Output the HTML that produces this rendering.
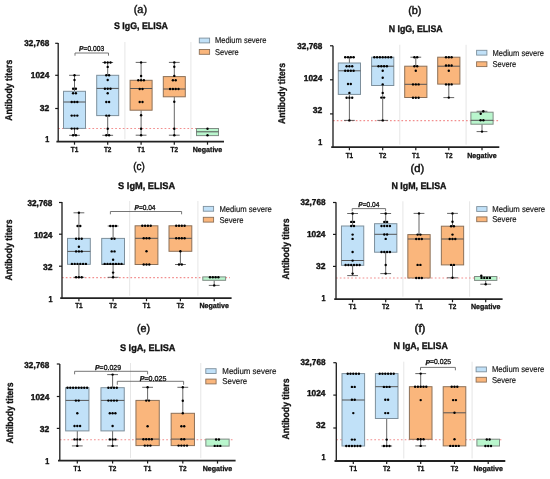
<!DOCTYPE html>
<html><head><meta charset="utf-8"><style>
html,body{margin:0;padding:0;background:#fff;width:550px;height:479px;overflow:hidden}
svg{display:block;font-family:"Liberation Sans", sans-serif;filter:blur(0.3px);text-rendering:geometricPrecision}
</style></head><body>
<svg width="550" height="479" viewBox="0 0 550 479">
<rect width="550" height="479" fill="#fff"/>
<text x="140.4" y="10" font-size="11.2" font-weight="normal" font-style="normal" text-anchor="middle" dominant-baseline="central" fill="#111" textLength="13.3" lengthAdjust="spacingAndGlyphs" stroke="#111" stroke-width="0.45">(a)</text>
<text x="141" y="26.9" font-size="9.5" font-weight="bold" font-style="normal" text-anchor="middle" dominant-baseline="central" fill="#111" textLength="54" lengthAdjust="spacingAndGlyphs" stroke="#111" stroke-width="0.35">S IgG, ELISA</text>
<text x="0" y="0" transform="translate(9.9,90.3) rotate(-90)" font-size="9.8" font-weight="bold" text-anchor="middle" dominant-baseline="central" fill="#111" stroke="#111" stroke-width="0.3" textLength="61" lengthAdjust="spacingAndGlyphs">Antibody titers</text>
<line x1="124.89999999999999" y1="42" x2="124.89999999999999" y2="139.2" stroke="#e3e3e3" stroke-width="0.9"/>
<line x1="190.9" y1="42" x2="190.9" y2="139.2" stroke="#e3e3e3" stroke-width="0.9"/>
<line x1="58.2" y1="128.5" x2="218" y2="128.5" stroke="#f07c7c" stroke-width="1.1" stroke-dasharray="1.7,2.1" opacity="0.85"/>
<line x1="74.5" y1="75.3" x2="74.5" y2="91.3" stroke="#555" stroke-width="0.9"/>
<line x1="69.1" y1="75.3" x2="79.9" y2="75.3" stroke="#555" stroke-width="0.9"/>
<line x1="74.5" y1="128.4" x2="74.5" y2="135.3" stroke="#555" stroke-width="0.9"/>
<line x1="69.1" y1="135.3" x2="79.9" y2="135.3" stroke="#555" stroke-width="0.9"/>
<rect x="63.50" y="91.3" width="22" height="37.10" fill="#c1e1f8" stroke="#7d8f9c" stroke-width="1"/>
<line x1="63.5" y1="102" x2="85.5" y2="102" stroke="#555" stroke-width="1"/>
<circle cx="74.50" cy="75.3" r="1.2" fill="#000"/>
<circle cx="74.50" cy="80" r="1.2" fill="#000"/>
<circle cx="73.10" cy="88.7" r="1.2" fill="#000"/>
<circle cx="75.90" cy="88.7" r="1.2" fill="#000"/>
<circle cx="73.10" cy="93.3" r="1.2" fill="#000"/>
<circle cx="75.90" cy="93.3" r="1.2" fill="#000"/>
<circle cx="71.70" cy="102" r="1.2" fill="#000"/>
<circle cx="74.50" cy="102" r="1.2" fill="#000"/>
<circle cx="77.30" cy="102" r="1.2" fill="#000"/>
<circle cx="71.70" cy="115.6" r="1.2" fill="#000"/>
<circle cx="74.50" cy="115.6" r="1.2" fill="#000"/>
<circle cx="77.30" cy="115.6" r="1.2" fill="#000"/>
<circle cx="71.70" cy="128.6" r="1.2" fill="#000"/>
<circle cx="74.50" cy="128.6" r="1.2" fill="#000"/>
<circle cx="77.30" cy="128.6" r="1.2" fill="#000"/>
<circle cx="73.10" cy="135.3" r="1.2" fill="#000"/>
<circle cx="75.90" cy="135.3" r="1.2" fill="#000"/>
<line x1="107.7" y1="62.5" x2="107.7" y2="75.3" stroke="#555" stroke-width="0.9"/>
<line x1="102.3" y1="62.5" x2="113.10000000000001" y2="62.5" stroke="#555" stroke-width="0.9"/>
<line x1="107.7" y1="115.6" x2="107.7" y2="135.3" stroke="#555" stroke-width="0.9"/>
<line x1="102.3" y1="135.3" x2="113.10000000000001" y2="135.3" stroke="#555" stroke-width="0.9"/>
<rect x="96.70" y="75.3" width="22" height="40.30" fill="#c1e1f8" stroke="#7d8f9c" stroke-width="1"/>
<line x1="96.7" y1="88.4" x2="118.7" y2="88.4" stroke="#555" stroke-width="1"/>
<circle cx="104.90" cy="62.5" r="1.2" fill="#000"/>
<circle cx="107.70" cy="62.5" r="1.2" fill="#000"/>
<circle cx="110.50" cy="62.5" r="1.2" fill="#000"/>
<circle cx="107.70" cy="66.9" r="1.2" fill="#000"/>
<circle cx="106.30" cy="75.3" r="1.2" fill="#000"/>
<circle cx="109.10" cy="75.3" r="1.2" fill="#000"/>
<circle cx="107.70" cy="80" r="1.2" fill="#000"/>
<circle cx="104.90" cy="88.7" r="1.2" fill="#000"/>
<circle cx="107.70" cy="88.7" r="1.2" fill="#000"/>
<circle cx="110.50" cy="88.7" r="1.2" fill="#000"/>
<circle cx="107.70" cy="93.3" r="1.2" fill="#000"/>
<circle cx="106.30" cy="102" r="1.2" fill="#000"/>
<circle cx="109.10" cy="102" r="1.2" fill="#000"/>
<circle cx="106.30" cy="115.6" r="1.2" fill="#000"/>
<circle cx="109.10" cy="115.6" r="1.2" fill="#000"/>
<circle cx="107.70" cy="128.7" r="1.2" fill="#000"/>
<circle cx="106.30" cy="135.3" r="1.2" fill="#000"/>
<circle cx="109.10" cy="135.3" r="1.2" fill="#000"/>
<line x1="141.1" y1="62.4" x2="141.1" y2="80.3" stroke="#555" stroke-width="0.9"/>
<line x1="135.7" y1="62.4" x2="146.5" y2="62.4" stroke="#555" stroke-width="0.9"/>
<line x1="141.1" y1="110.2" x2="141.1" y2="135.2" stroke="#555" stroke-width="0.9"/>
<line x1="135.7" y1="135.2" x2="146.5" y2="135.2" stroke="#555" stroke-width="0.9"/>
<rect x="130.10" y="80.3" width="22" height="29.90" fill="#fab67c" stroke="#8c7058" stroke-width="1"/>
<line x1="130.1" y1="88.5" x2="152.1" y2="88.5" stroke="#555" stroke-width="1"/>
<circle cx="141.10" cy="62.4" r="1.2" fill="#000"/>
<circle cx="141.10" cy="75.9" r="1.2" fill="#000"/>
<circle cx="138.30" cy="80.3" r="1.2" fill="#000"/>
<circle cx="141.10" cy="80.3" r="1.2" fill="#000"/>
<circle cx="143.90" cy="80.3" r="1.2" fill="#000"/>
<circle cx="139.70" cy="89" r="1.2" fill="#000"/>
<circle cx="142.50" cy="89" r="1.2" fill="#000"/>
<circle cx="139.70" cy="102" r="1.2" fill="#000"/>
<circle cx="142.50" cy="102" r="1.2" fill="#000"/>
<circle cx="141.10" cy="115.3" r="1.2" fill="#000"/>
<circle cx="141.10" cy="128.8" r="1.2" fill="#000"/>
<circle cx="141.10" cy="135.2" r="1.2" fill="#000"/>
<line x1="174.3" y1="62.4" x2="174.3" y2="76.6" stroke="#555" stroke-width="0.9"/>
<line x1="168.9" y1="62.4" x2="179.70000000000002" y2="62.4" stroke="#555" stroke-width="0.9"/>
<line x1="174.3" y1="96.8" x2="174.3" y2="135.2" stroke="#555" stroke-width="0.9"/>
<line x1="168.9" y1="135.2" x2="179.70000000000002" y2="135.2" stroke="#555" stroke-width="0.9"/>
<rect x="163.30" y="76.6" width="22" height="20.20" fill="#fab67c" stroke="#8c7058" stroke-width="1"/>
<line x1="163.3" y1="89" x2="185.3" y2="89" stroke="#555" stroke-width="1"/>
<circle cx="174.30" cy="62.4" r="1.2" fill="#000"/>
<circle cx="174.30" cy="66.7" r="1.2" fill="#000"/>
<circle cx="174.30" cy="75.9" r="1.2" fill="#000"/>
<circle cx="172.90" cy="80.3" r="1.2" fill="#000"/>
<circle cx="175.70" cy="80.3" r="1.2" fill="#000"/>
<circle cx="170.10" cy="89" r="1.2" fill="#000"/>
<circle cx="172.90" cy="89" r="1.2" fill="#000"/>
<circle cx="175.70" cy="89" r="1.2" fill="#000"/>
<circle cx="178.50" cy="89" r="1.2" fill="#000"/>
<circle cx="174.30" cy="101.8" r="1.2" fill="#000"/>
<circle cx="174.30" cy="128.8" r="1.2" fill="#000"/>
<circle cx="174.30" cy="135.2" r="1.2" fill="#000"/>
<rect x="196.50" y="128.5" width="22" height="7.10" fill="#b9f6cd" stroke="#7f8c84" stroke-width="1"/>
<line x1="196.5" y1="131.8" x2="218.5" y2="131.8" stroke="#555" stroke-width="1"/>
<circle cx="207.50" cy="128.8" r="1.2" fill="#000"/>
<circle cx="207.50" cy="135.2" r="1.2" fill="#000"/>
<line x1="58.2" y1="43" x2="58.2" y2="141.7" stroke="#222" stroke-width="1.35"/>
<line x1="56.400000000000006" y1="141.7" x2="224" y2="141.7" stroke="#222" stroke-width="1.8"/>
<line x1="55.2" y1="43.3" x2="58.2" y2="43.3" stroke="#1a1a1a" stroke-width="1.2"/>
<line x1="55.2" y1="75.3" x2="58.2" y2="75.3" stroke="#1a1a1a" stroke-width="1.2"/>
<line x1="55.2" y1="108.5" x2="58.2" y2="108.5" stroke="#1a1a1a" stroke-width="1.2"/>
<line x1="74.5" y1="141.7" x2="74.5" y2="144.7" stroke="#1a1a1a" stroke-width="1.2"/>
<line x1="107.7" y1="141.7" x2="107.7" y2="144.7" stroke="#1a1a1a" stroke-width="1.2"/>
<line x1="141.1" y1="141.7" x2="141.1" y2="144.7" stroke="#1a1a1a" stroke-width="1.2"/>
<line x1="174.3" y1="141.7" x2="174.3" y2="144.7" stroke="#1a1a1a" stroke-width="1.2"/>
<line x1="207.5" y1="141.7" x2="207.5" y2="144.7" stroke="#1a1a1a" stroke-width="1.2"/>
<text x="49.3" y="43" font-size="8.6" font-weight="bold" font-style="normal" text-anchor="end" dominant-baseline="central" fill="#111" textLength="25" lengthAdjust="spacingAndGlyphs" stroke="#111" stroke-width="0.4">32,768</text>
<text x="49.3" y="75" font-size="8.6" font-weight="bold" font-style="normal" text-anchor="end" dominant-baseline="central" fill="#111" textLength="18.5" lengthAdjust="spacingAndGlyphs" stroke="#111" stroke-width="0.4">1024</text>
<text x="49.3" y="107.6" font-size="8.6" font-weight="bold" font-style="normal" text-anchor="end" dominant-baseline="central" fill="#111" textLength="9.5" lengthAdjust="spacingAndGlyphs" stroke="#111" stroke-width="0.4">32</text>
<text x="49.3" y="139" font-size="8.6" font-weight="bold" font-style="normal" text-anchor="end" dominant-baseline="central" fill="#111" textLength="4" lengthAdjust="spacingAndGlyphs" stroke="#111" stroke-width="0.4">1</text>
<text x="74.5" y="149.5" font-size="7.3" font-weight="bold" font-style="normal" text-anchor="middle" dominant-baseline="central" fill="#111" textLength="7.5" lengthAdjust="spacingAndGlyphs" stroke="#111" stroke-width="0.3">T1</text>
<text x="107.7" y="149.5" font-size="7.3" font-weight="bold" font-style="normal" text-anchor="middle" dominant-baseline="central" fill="#111" textLength="7.5" lengthAdjust="spacingAndGlyphs" stroke="#111" stroke-width="0.3">T2</text>
<text x="141.1" y="149.5" font-size="7.3" font-weight="bold" font-style="normal" text-anchor="middle" dominant-baseline="central" fill="#111" textLength="7.5" lengthAdjust="spacingAndGlyphs" stroke="#111" stroke-width="0.3">T1</text>
<text x="174.3" y="149.5" font-size="7.3" font-weight="bold" font-style="normal" text-anchor="middle" dominant-baseline="central" fill="#111" textLength="7.5" lengthAdjust="spacingAndGlyphs" stroke="#111" stroke-width="0.3">T2</text>
<text x="207.5" y="149.5" font-size="7.3" font-weight="bold" font-style="normal" text-anchor="middle" dominant-baseline="central" fill="#111" textLength="29.5" lengthAdjust="spacingAndGlyphs" stroke="#111" stroke-width="0.3">Negative</text>
<rect x="199.3" y="38.099999999999994" width="10.3" height="4.8" fill="#c1e1f8" stroke="#7d8f9c" stroke-width="0.9"/>
<rect x="199.3" y="49.5" width="10.3" height="4.8" fill="#fab67c" stroke="#8c7058" stroke-width="0.9"/>
<text x="215" y="40.4" font-size="8.5" font-weight="normal" font-style="normal" text-anchor="start" dominant-baseline="central" fill="#1a1a1a" textLength="51.5" lengthAdjust="spacingAndGlyphs" stroke="#1a1a1a" stroke-width="0.2">Medium severe</text>
<text x="215" y="51.800000000000004" font-size="8.5" font-weight="normal" font-style="normal" text-anchor="start" dominant-baseline="central" fill="#1a1a1a" textLength="23.69" lengthAdjust="spacingAndGlyphs" stroke="#1a1a1a" stroke-width="0.2">Severe</text>
<polyline points="75,55.7 75,53 108.5,53 108.5,55.7" fill="none" stroke="#666" stroke-width="0.9"/>
<text x="91.6" y="48.3" font-size="7.2" text-anchor="middle" dominant-baseline="central" fill="#111" stroke="#111" stroke-width="0.3" textLength="25" lengthAdjust="spacingAndGlyphs"><tspan font-style="italic" font-weight="bold">P</tspan>=0.003</text>
<text x="414.8" y="11" font-size="11.2" font-weight="normal" font-style="normal" text-anchor="middle" dominant-baseline="central" fill="#111" textLength="13.3" lengthAdjust="spacingAndGlyphs" stroke="#111" stroke-width="0.45">(b)</text>
<text x="415.7" y="29.9" font-size="9.5" font-weight="bold" font-style="normal" text-anchor="middle" dominant-baseline="central" fill="#111" textLength="54" lengthAdjust="spacingAndGlyphs" stroke="#111" stroke-width="0.35">N IgG, ELISA</text>
<text x="0" y="0" transform="translate(282.40000000000003,93.5) rotate(-90)" font-size="9.8" font-weight="bold" text-anchor="middle" dominant-baseline="central" fill="#111" stroke="#111" stroke-width="0.3" textLength="61" lengthAdjust="spacingAndGlyphs">Antibody titers</text>
<line x1="399.8" y1="44.8" x2="399.8" y2="144.7" stroke="#e3e3e3" stroke-width="0.9"/>
<line x1="466.1" y1="44.8" x2="466.1" y2="144.7" stroke="#e3e3e3" stroke-width="0.9"/>
<line x1="333" y1="120.6" x2="500" y2="120.6" stroke="#f07c7c" stroke-width="1.1" stroke-dasharray="1.7,2.1" opacity="0.85"/>
<line x1="349.4" y1="57.2" x2="349.4" y2="63" stroke="#555" stroke-width="0.9"/>
<line x1="344.0" y1="57.2" x2="354.79999999999995" y2="57.2" stroke="#555" stroke-width="0.9"/>
<line x1="349.4" y1="94.4" x2="349.4" y2="120.4" stroke="#555" stroke-width="0.9"/>
<line x1="344.0" y1="120.4" x2="354.79999999999995" y2="120.4" stroke="#555" stroke-width="0.9"/>
<rect x="338.30" y="63" width="22.2" height="31.40" fill="#c1e1f8" stroke="#7d8f9c" stroke-width="1"/>
<line x1="338.29999999999995" y1="70.8" x2="360.5" y2="70.8" stroke="#555" stroke-width="1"/>
<circle cx="345.20" cy="57.2" r="1.2" fill="#000"/>
<circle cx="348.00" cy="57.2" r="1.2" fill="#000"/>
<circle cx="350.80" cy="57.2" r="1.2" fill="#000"/>
<circle cx="353.60" cy="57.2" r="1.2" fill="#000"/>
<circle cx="346.60" cy="66.2" r="1.2" fill="#000"/>
<circle cx="349.40" cy="66.2" r="1.2" fill="#000"/>
<circle cx="352.20" cy="66.2" r="1.2" fill="#000"/>
<circle cx="345.20" cy="70.8" r="1.2" fill="#000"/>
<circle cx="348.00" cy="70.8" r="1.2" fill="#000"/>
<circle cx="350.80" cy="70.8" r="1.2" fill="#000"/>
<circle cx="353.60" cy="70.8" r="1.2" fill="#000"/>
<circle cx="348.00" cy="84" r="1.2" fill="#000"/>
<circle cx="350.80" cy="84" r="1.2" fill="#000"/>
<circle cx="349.40" cy="92.9" r="1.2" fill="#000"/>
<circle cx="346.60" cy="97.8" r="1.2" fill="#000"/>
<circle cx="349.40" cy="97.8" r="1.2" fill="#000"/>
<circle cx="352.20" cy="97.8" r="1.2" fill="#000"/>
<circle cx="349.40" cy="120.4" r="1.2" fill="#000"/>
<line x1="382.7" y1="85.5" x2="382.7" y2="120.4" stroke="#555" stroke-width="0.9"/>
<line x1="377.3" y1="120.4" x2="388.09999999999997" y2="120.4" stroke="#555" stroke-width="0.9"/>
<rect x="371.60" y="57.2" width="22.2" height="28.30" fill="#c1e1f8" stroke="#7d8f9c" stroke-width="1"/>
<line x1="371.59999999999997" y1="66.2" x2="393.8" y2="66.2" stroke="#555" stroke-width="1"/>
<circle cx="374.30" cy="57.2" r="1.2" fill="#000"/>
<circle cx="377.10" cy="57.2" r="1.2" fill="#000"/>
<circle cx="379.90" cy="57.2" r="1.2" fill="#000"/>
<circle cx="382.70" cy="57.2" r="1.2" fill="#000"/>
<circle cx="385.50" cy="57.2" r="1.2" fill="#000"/>
<circle cx="388.30" cy="57.2" r="1.2" fill="#000"/>
<circle cx="391.10" cy="57.2" r="1.2" fill="#000"/>
<circle cx="378.50" cy="66.2" r="1.2" fill="#000"/>
<circle cx="381.30" cy="66.2" r="1.2" fill="#000"/>
<circle cx="384.10" cy="66.2" r="1.2" fill="#000"/>
<circle cx="386.90" cy="66.2" r="1.2" fill="#000"/>
<circle cx="382.70" cy="70.8" r="1.2" fill="#000"/>
<circle cx="382.70" cy="77.8" r="1.2" fill="#000"/>
<circle cx="382.70" cy="84.4" r="1.2" fill="#000"/>
<circle cx="382.70" cy="92.9" r="1.2" fill="#000"/>
<circle cx="381.30" cy="97.6" r="1.2" fill="#000"/>
<circle cx="384.10" cy="97.6" r="1.2" fill="#000"/>
<circle cx="382.70" cy="120.4" r="1.2" fill="#000"/>
<line x1="415.8" y1="57.2" x2="415.8" y2="66.2" stroke="#555" stroke-width="0.9"/>
<line x1="410.40000000000003" y1="57.2" x2="421.2" y2="57.2" stroke="#555" stroke-width="0.9"/>
<rect x="404.70" y="66.2" width="22.2" height="31.30" fill="#fab67c" stroke="#8c7058" stroke-width="1"/>
<line x1="404.7" y1="84.3" x2="426.90000000000003" y2="84.3" stroke="#555" stroke-width="1"/>
<circle cx="414.40" cy="57.2" r="1.2" fill="#000"/>
<circle cx="417.20" cy="57.2" r="1.2" fill="#000"/>
<circle cx="414.40" cy="66.2" r="1.2" fill="#000"/>
<circle cx="417.20" cy="66.2" r="1.2" fill="#000"/>
<circle cx="415.80" cy="70.8" r="1.2" fill="#000"/>
<circle cx="413.00" cy="84.4" r="1.2" fill="#000"/>
<circle cx="415.80" cy="84.4" r="1.2" fill="#000"/>
<circle cx="418.60" cy="84.4" r="1.2" fill="#000"/>
<circle cx="413.00" cy="97.7" r="1.2" fill="#000"/>
<circle cx="415.80" cy="97.7" r="1.2" fill="#000"/>
<circle cx="418.60" cy="97.7" r="1.2" fill="#000"/>
<line x1="448.8" y1="84.1" x2="448.8" y2="97.6" stroke="#555" stroke-width="0.9"/>
<line x1="443.40000000000003" y1="97.6" x2="454.2" y2="97.6" stroke="#555" stroke-width="0.9"/>
<rect x="437.70" y="57.2" width="22.2" height="26.90" fill="#fab67c" stroke="#8c7058" stroke-width="1"/>
<line x1="437.7" y1="66.2" x2="459.90000000000003" y2="66.2" stroke="#555" stroke-width="1"/>
<circle cx="446.00" cy="57.2" r="1.2" fill="#000"/>
<circle cx="448.80" cy="57.2" r="1.2" fill="#000"/>
<circle cx="451.60" cy="57.2" r="1.2" fill="#000"/>
<circle cx="446.00" cy="65.5" r="1.2" fill="#000"/>
<circle cx="448.80" cy="65.5" r="1.2" fill="#000"/>
<circle cx="451.60" cy="65.5" r="1.2" fill="#000"/>
<circle cx="448.80" cy="70.8" r="1.2" fill="#000"/>
<circle cx="446.00" cy="84.4" r="1.2" fill="#000"/>
<circle cx="448.80" cy="84.4" r="1.2" fill="#000"/>
<circle cx="451.60" cy="84.4" r="1.2" fill="#000"/>
<circle cx="448.80" cy="97.6" r="1.2" fill="#000"/>
<line x1="482" y1="111.3" x2="482" y2="112.2" stroke="#555" stroke-width="0.9"/>
<line x1="476.6" y1="111.3" x2="487.4" y2="111.3" stroke="#555" stroke-width="0.9"/>
<line x1="482" y1="124.2" x2="482" y2="131.6" stroke="#555" stroke-width="0.9"/>
<line x1="476.6" y1="131.6" x2="487.4" y2="131.6" stroke="#555" stroke-width="0.9"/>
<rect x="470.90" y="112.2" width="22.2" height="12.00" fill="#b9f6cd" stroke="#7f8c84" stroke-width="1"/>
<line x1="470.9" y1="120.3" x2="493.1" y2="120.3" stroke="#555" stroke-width="1"/>
<circle cx="483.30" cy="111.3" r="1.2" fill="#000"/>
<circle cx="480.70" cy="113.7" r="1.2" fill="#000"/>
<circle cx="480.60" cy="120.3" r="1.2" fill="#000"/>
<circle cx="483.40" cy="120.3" r="1.2" fill="#000"/>
<circle cx="482.00" cy="131.6" r="1.2" fill="#000"/>
<line x1="333" y1="45.8" x2="333" y2="147.2" stroke="#222" stroke-width="1.35"/>
<line x1="331.2" y1="147.2" x2="499.3" y2="147.2" stroke="#222" stroke-width="1.8"/>
<line x1="330" y1="45.8" x2="333" y2="45.8" stroke="#1a1a1a" stroke-width="1.2"/>
<line x1="330" y1="79.8" x2="333" y2="79.8" stroke="#1a1a1a" stroke-width="1.2"/>
<line x1="330" y1="113.9" x2="333" y2="113.9" stroke="#1a1a1a" stroke-width="1.2"/>
<line x1="349.4" y1="147.2" x2="349.4" y2="150.2" stroke="#1a1a1a" stroke-width="1.2"/>
<line x1="382.7" y1="147.2" x2="382.7" y2="150.2" stroke="#1a1a1a" stroke-width="1.2"/>
<line x1="415.8" y1="147.2" x2="415.8" y2="150.2" stroke="#1a1a1a" stroke-width="1.2"/>
<line x1="448.8" y1="147.2" x2="448.8" y2="150.2" stroke="#1a1a1a" stroke-width="1.2"/>
<line x1="482" y1="147.2" x2="482" y2="150.2" stroke="#1a1a1a" stroke-width="1.2"/>
<text x="322.3" y="45.8" font-size="8.6" font-weight="bold" font-style="normal" text-anchor="end" dominant-baseline="central" fill="#111" textLength="25" lengthAdjust="spacingAndGlyphs" stroke="#111" stroke-width="0.4">32,768</text>
<text x="322.3" y="78.4" font-size="8.6" font-weight="bold" font-style="normal" text-anchor="end" dominant-baseline="central" fill="#111" textLength="18.5" lengthAdjust="spacingAndGlyphs" stroke="#111" stroke-width="0.4">1024</text>
<text x="322.3" y="110" font-size="8.6" font-weight="bold" font-style="normal" text-anchor="end" dominant-baseline="central" fill="#111" textLength="9.5" lengthAdjust="spacingAndGlyphs" stroke="#111" stroke-width="0.4">32</text>
<text x="322.3" y="141.8" font-size="8.6" font-weight="bold" font-style="normal" text-anchor="end" dominant-baseline="central" fill="#111" textLength="4" lengthAdjust="spacingAndGlyphs" stroke="#111" stroke-width="0.4">1</text>
<text x="349.4" y="155.3" font-size="7.3" font-weight="bold" font-style="normal" text-anchor="middle" dominant-baseline="central" fill="#111" textLength="7.5" lengthAdjust="spacingAndGlyphs" stroke="#111" stroke-width="0.3">T1</text>
<text x="382.7" y="155.3" font-size="7.3" font-weight="bold" font-style="normal" text-anchor="middle" dominant-baseline="central" fill="#111" textLength="7.5" lengthAdjust="spacingAndGlyphs" stroke="#111" stroke-width="0.3">T2</text>
<text x="415.8" y="155.3" font-size="7.3" font-weight="bold" font-style="normal" text-anchor="middle" dominant-baseline="central" fill="#111" textLength="7.5" lengthAdjust="spacingAndGlyphs" stroke="#111" stroke-width="0.3">T1</text>
<text x="448.8" y="155.3" font-size="7.3" font-weight="bold" font-style="normal" text-anchor="middle" dominant-baseline="central" fill="#111" textLength="7.5" lengthAdjust="spacingAndGlyphs" stroke="#111" stroke-width="0.3">T2</text>
<text x="482" y="155.3" font-size="7.3" font-weight="bold" font-style="normal" text-anchor="middle" dominant-baseline="central" fill="#111" textLength="29.5" lengthAdjust="spacingAndGlyphs" stroke="#111" stroke-width="0.3">Negative</text>
<rect x="476.6" y="50.3" width="10.3" height="4.8" fill="#c1e1f8" stroke="#7d8f9c" stroke-width="0.9"/>
<rect x="476.6" y="61.8" width="10.3" height="4.8" fill="#fab67c" stroke="#8c7058" stroke-width="0.9"/>
<text x="492.5" y="52.6" font-size="8.5" font-weight="normal" font-style="normal" text-anchor="start" dominant-baseline="central" fill="#1a1a1a" textLength="51.5" lengthAdjust="spacingAndGlyphs" stroke="#1a1a1a" stroke-width="0.2">Medium severe</text>
<text x="492.5" y="64.1" font-size="8.5" font-weight="normal" font-style="normal" text-anchor="start" dominant-baseline="central" fill="#1a1a1a" textLength="23.69" lengthAdjust="spacingAndGlyphs" stroke="#1a1a1a" stroke-width="0.2">Severe</text>
<text x="139.1" y="167.2" font-size="11.2" font-weight="normal" font-style="normal" text-anchor="middle" dominant-baseline="central" fill="#111" textLength="11.6" lengthAdjust="spacingAndGlyphs" stroke="#111" stroke-width="0.45">(c)</text>
<text x="146.6" y="186.9" font-size="9.5" font-weight="bold" font-style="normal" text-anchor="middle" dominant-baseline="central" fill="#111" textLength="57" lengthAdjust="spacingAndGlyphs" stroke="#111" stroke-width="0.35">S IgM, ELISA</text>
<text x="0" y="0" transform="translate(9.6,250) rotate(-90)" font-size="9.8" font-weight="bold" text-anchor="middle" dominant-baseline="central" fill="#111" stroke="#111" stroke-width="0.3" textLength="61" lengthAdjust="spacingAndGlyphs">Antibody titers</text>
<line x1="129.70000000000002" y1="201" x2="129.70000000000002" y2="295.7" stroke="#e3e3e3" stroke-width="0.9"/>
<line x1="197.9" y1="201" x2="197.9" y2="295.7" stroke="#e3e3e3" stroke-width="0.9"/>
<line x1="62" y1="277.6" x2="230" y2="277.6" stroke="#f07c7c" stroke-width="1.1" stroke-dasharray="1.7,2.1" opacity="0.85"/>
<line x1="78.9" y1="212.8" x2="78.9" y2="238.4" stroke="#555" stroke-width="0.9"/>
<line x1="73.5" y1="212.8" x2="84.30000000000001" y2="212.8" stroke="#555" stroke-width="0.9"/>
<line x1="78.9" y1="264.3" x2="78.9" y2="277.3" stroke="#555" stroke-width="0.9"/>
<line x1="73.5" y1="277.3" x2="84.30000000000001" y2="277.3" stroke="#555" stroke-width="0.9"/>
<rect x="67.50" y="238.4" width="22.8" height="25.90" fill="#c1e1f8" stroke="#7d8f9c" stroke-width="1"/>
<line x1="67.5" y1="251.4" x2="90.30000000000001" y2="251.4" stroke="#555" stroke-width="1"/>
<circle cx="78.90" cy="212.8" r="1.2" fill="#000"/>
<circle cx="77.50" cy="226" r="1.2" fill="#000"/>
<circle cx="80.30" cy="226" r="1.2" fill="#000"/>
<circle cx="76.10" cy="238.7" r="1.2" fill="#000"/>
<circle cx="78.90" cy="238.7" r="1.2" fill="#000"/>
<circle cx="81.70" cy="238.7" r="1.2" fill="#000"/>
<circle cx="78.90" cy="246.7" r="1.2" fill="#000"/>
<circle cx="76.10" cy="251.4" r="1.2" fill="#000"/>
<circle cx="78.90" cy="251.4" r="1.2" fill="#000"/>
<circle cx="81.70" cy="251.4" r="1.2" fill="#000"/>
<circle cx="71.90" cy="263.9" r="1.2" fill="#000"/>
<circle cx="74.70" cy="263.9" r="1.2" fill="#000"/>
<circle cx="77.50" cy="263.9" r="1.2" fill="#000"/>
<circle cx="80.30" cy="263.9" r="1.2" fill="#000"/>
<circle cx="83.10" cy="263.9" r="1.2" fill="#000"/>
<circle cx="85.90" cy="263.9" r="1.2" fill="#000"/>
<circle cx="76.10" cy="277.3" r="1.2" fill="#000"/>
<circle cx="78.90" cy="277.3" r="1.2" fill="#000"/>
<circle cx="81.70" cy="277.3" r="1.2" fill="#000"/>
<line x1="113.1" y1="226" x2="113.1" y2="238.4" stroke="#555" stroke-width="0.9"/>
<line x1="107.69999999999999" y1="226" x2="118.5" y2="226" stroke="#555" stroke-width="0.9"/>
<line x1="113.1" y1="264.3" x2="113.1" y2="277.3" stroke="#555" stroke-width="0.9"/>
<line x1="107.69999999999999" y1="277.3" x2="118.5" y2="277.3" stroke="#555" stroke-width="0.9"/>
<rect x="101.70" y="238.4" width="22.8" height="25.90" fill="#c1e1f8" stroke="#7d8f9c" stroke-width="1"/>
<line x1="101.69999999999999" y1="264.3" x2="124.5" y2="264.3" stroke="#555" stroke-width="1"/>
<circle cx="110.30" cy="226" r="1.2" fill="#000"/>
<circle cx="113.10" cy="226" r="1.2" fill="#000"/>
<circle cx="115.90" cy="226" r="1.2" fill="#000"/>
<circle cx="111.70" cy="238.7" r="1.2" fill="#000"/>
<circle cx="114.50" cy="238.7" r="1.2" fill="#000"/>
<circle cx="111.70" cy="251.4" r="1.2" fill="#000"/>
<circle cx="114.50" cy="251.4" r="1.2" fill="#000"/>
<circle cx="113.10" cy="259.8" r="1.2" fill="#000"/>
<circle cx="104.70" cy="263.9" r="1.2" fill="#000"/>
<circle cx="107.50" cy="263.9" r="1.2" fill="#000"/>
<circle cx="110.30" cy="263.9" r="1.2" fill="#000"/>
<circle cx="113.10" cy="263.9" r="1.2" fill="#000"/>
<circle cx="115.90" cy="263.9" r="1.2" fill="#000"/>
<circle cx="118.70" cy="263.9" r="1.2" fill="#000"/>
<circle cx="121.50" cy="263.9" r="1.2" fill="#000"/>
<circle cx="113.10" cy="272.6" r="1.2" fill="#000"/>
<circle cx="113.10" cy="277.3" r="1.2" fill="#000"/>
<rect x="135.10" y="225.8" width="22.8" height="38.70" fill="#fab67c" stroke="#8c7058" stroke-width="1"/>
<line x1="135.1" y1="238.3" x2="157.9" y2="238.3" stroke="#555" stroke-width="1"/>
<circle cx="142.30" cy="225.8" r="1.2" fill="#000"/>
<circle cx="145.10" cy="225.8" r="1.2" fill="#000"/>
<circle cx="147.90" cy="225.8" r="1.2" fill="#000"/>
<circle cx="150.70" cy="225.8" r="1.2" fill="#000"/>
<circle cx="143.70" cy="238.3" r="1.2" fill="#000"/>
<circle cx="146.50" cy="238.3" r="1.2" fill="#000"/>
<circle cx="149.30" cy="238.3" r="1.2" fill="#000"/>
<circle cx="146.50" cy="251.2" r="1.2" fill="#000"/>
<circle cx="143.70" cy="264.5" r="1.2" fill="#000"/>
<circle cx="146.50" cy="264.5" r="1.2" fill="#000"/>
<circle cx="149.30" cy="264.5" r="1.2" fill="#000"/>
<line x1="180.4" y1="251.3" x2="180.4" y2="264.5" stroke="#555" stroke-width="0.9"/>
<line x1="175.0" y1="264.5" x2="185.8" y2="264.5" stroke="#555" stroke-width="0.9"/>
<rect x="169.00" y="225.8" width="22.8" height="25.50" fill="#fab67c" stroke="#8c7058" stroke-width="1"/>
<line x1="169.0" y1="238.3" x2="191.8" y2="238.3" stroke="#555" stroke-width="1"/>
<circle cx="176.20" cy="225.8" r="1.2" fill="#000"/>
<circle cx="179.00" cy="225.8" r="1.2" fill="#000"/>
<circle cx="181.80" cy="225.8" r="1.2" fill="#000"/>
<circle cx="184.60" cy="225.8" r="1.2" fill="#000"/>
<circle cx="176.20" cy="238.3" r="1.2" fill="#000"/>
<circle cx="179.00" cy="238.3" r="1.2" fill="#000"/>
<circle cx="181.80" cy="238.3" r="1.2" fill="#000"/>
<circle cx="184.60" cy="238.3" r="1.2" fill="#000"/>
<circle cx="180.40" cy="251.3" r="1.2" fill="#000"/>
<circle cx="179.00" cy="264.5" r="1.2" fill="#000"/>
<circle cx="181.80" cy="264.5" r="1.2" fill="#000"/>
<line x1="214.2" y1="280.3" x2="214.2" y2="285.4" stroke="#555" stroke-width="0.9"/>
<line x1="208.79999999999998" y1="285.4" x2="219.6" y2="285.4" stroke="#555" stroke-width="0.9"/>
<rect x="202.80" y="276.9" width="22.8" height="3.40" fill="#b9f6cd" stroke="#7f8c84" stroke-width="1"/>
<circle cx="210.00" cy="277.2" r="1.2" fill="#000"/>
<circle cx="212.80" cy="277.2" r="1.2" fill="#000"/>
<circle cx="215.60" cy="277.2" r="1.2" fill="#000"/>
<circle cx="218.40" cy="277.2" r="1.2" fill="#000"/>
<circle cx="214.20" cy="285.4" r="1.2" fill="#000"/>
<line x1="62" y1="202" x2="62" y2="298.2" stroke="#222" stroke-width="1.35"/>
<line x1="60.2" y1="298.2" x2="231.6" y2="298.2" stroke="#222" stroke-width="1.8"/>
<line x1="59" y1="202.5" x2="62" y2="202.5" stroke="#1a1a1a" stroke-width="1.2"/>
<line x1="59" y1="234.2" x2="62" y2="234.2" stroke="#1a1a1a" stroke-width="1.2"/>
<line x1="59" y1="266.2" x2="62" y2="266.2" stroke="#1a1a1a" stroke-width="1.2"/>
<line x1="78.9" y1="298.2" x2="78.9" y2="301.2" stroke="#1a1a1a" stroke-width="1.2"/>
<line x1="113.1" y1="298.2" x2="113.1" y2="301.2" stroke="#1a1a1a" stroke-width="1.2"/>
<line x1="146.5" y1="298.2" x2="146.5" y2="301.2" stroke="#1a1a1a" stroke-width="1.2"/>
<line x1="180.4" y1="298.2" x2="180.4" y2="301.2" stroke="#1a1a1a" stroke-width="1.2"/>
<line x1="214.2" y1="298.2" x2="214.2" y2="301.2" stroke="#1a1a1a" stroke-width="1.2"/>
<text x="52.4" y="203.3" font-size="8.6" font-weight="bold" font-style="normal" text-anchor="end" dominant-baseline="central" fill="#111" textLength="25" lengthAdjust="spacingAndGlyphs" stroke="#111" stroke-width="0.4">32,768</text>
<text x="52.4" y="235" font-size="8.6" font-weight="bold" font-style="normal" text-anchor="end" dominant-baseline="central" fill="#111" textLength="18.5" lengthAdjust="spacingAndGlyphs" stroke="#111" stroke-width="0.4">1024</text>
<text x="52.4" y="267.3" font-size="8.6" font-weight="bold" font-style="normal" text-anchor="end" dominant-baseline="central" fill="#111" textLength="9.5" lengthAdjust="spacingAndGlyphs" stroke="#111" stroke-width="0.4">32</text>
<text x="52.4" y="299" font-size="8.6" font-weight="bold" font-style="normal" text-anchor="end" dominant-baseline="central" fill="#111" textLength="4" lengthAdjust="spacingAndGlyphs" stroke="#111" stroke-width="0.4">1</text>
<text x="78.9" y="305.7" font-size="7.3" font-weight="bold" font-style="normal" text-anchor="middle" dominant-baseline="central" fill="#111" textLength="7.5" lengthAdjust="spacingAndGlyphs" stroke="#111" stroke-width="0.3">T1</text>
<text x="113.1" y="305.7" font-size="7.3" font-weight="bold" font-style="normal" text-anchor="middle" dominant-baseline="central" fill="#111" textLength="7.5" lengthAdjust="spacingAndGlyphs" stroke="#111" stroke-width="0.3">T2</text>
<text x="146.5" y="305.7" font-size="7.3" font-weight="bold" font-style="normal" text-anchor="middle" dominant-baseline="central" fill="#111" textLength="7.5" lengthAdjust="spacingAndGlyphs" stroke="#111" stroke-width="0.3">T1</text>
<text x="180.4" y="305.7" font-size="7.3" font-weight="bold" font-style="normal" text-anchor="middle" dominant-baseline="central" fill="#111" textLength="7.5" lengthAdjust="spacingAndGlyphs" stroke="#111" stroke-width="0.3">T2</text>
<text x="214.2" y="305.7" font-size="7.3" font-weight="bold" font-style="normal" text-anchor="middle" dominant-baseline="central" fill="#111" textLength="29.5" lengthAdjust="spacingAndGlyphs" stroke="#111" stroke-width="0.3">Negative</text>
<rect x="203.3" y="206.4" width="10.3" height="4.8" fill="#c1e1f8" stroke="#7d8f9c" stroke-width="0.9"/>
<rect x="203.3" y="217.3" width="10.3" height="4.8" fill="#fab67c" stroke="#8c7058" stroke-width="0.9"/>
<text x="219.4" y="208.7" font-size="8.5" font-weight="normal" font-style="normal" text-anchor="start" dominant-baseline="central" fill="#1a1a1a" textLength="52.4" lengthAdjust="spacingAndGlyphs" stroke="#1a1a1a" stroke-width="0.2">Medium severe</text>
<text x="219.4" y="219.6" font-size="8.5" font-weight="normal" font-style="normal" text-anchor="start" dominant-baseline="central" fill="#1a1a1a" textLength="24.104" lengthAdjust="spacingAndGlyphs" stroke="#1a1a1a" stroke-width="0.2">Severe</text>
<polyline points="110.4,214.3 110.4,211.5 181.6,211.5 181.6,214.3" fill="none" stroke="#666" stroke-width="0.9"/>
<text x="145" y="207.3" font-size="7.2" text-anchor="middle" dominant-baseline="central" fill="#111" stroke="#111" stroke-width="0.3" textLength="21" lengthAdjust="spacingAndGlyphs"><tspan font-style="italic" font-weight="bold">P</tspan>=0.04</text>
<text x="417.3" y="168.8" font-size="11.2" font-weight="normal" font-style="normal" text-anchor="middle" dominant-baseline="central" fill="#111" textLength="13.8" lengthAdjust="spacingAndGlyphs" stroke="#111" stroke-width="0.45">(d)</text>
<text x="419" y="186.9" font-size="9.5" font-weight="bold" font-style="normal" text-anchor="middle" dominant-baseline="central" fill="#111" textLength="55" lengthAdjust="spacingAndGlyphs" stroke="#111" stroke-width="0.35">N IgM, ELISA</text>
<text x="0" y="0" transform="translate(286.1,249) rotate(-90)" font-size="9.8" font-weight="bold" text-anchor="middle" dominant-baseline="central" fill="#111" stroke="#111" stroke-width="0.3" textLength="61" lengthAdjust="spacingAndGlyphs">Antibody titers</text>
<line x1="402.90000000000003" y1="201.3" x2="402.90000000000003" y2="296.7" stroke="#e3e3e3" stroke-width="0.9"/>
<line x1="469.6" y1="201.3" x2="469.6" y2="296.7" stroke="#e3e3e3" stroke-width="0.9"/>
<line x1="336" y1="278" x2="500" y2="278" stroke="#f07c7c" stroke-width="1.1" stroke-dasharray="1.7,2.1" opacity="0.85"/>
<line x1="352.6" y1="213.5" x2="352.6" y2="226" stroke="#555" stroke-width="0.9"/>
<line x1="347.20000000000005" y1="213.5" x2="358.0" y2="213.5" stroke="#555" stroke-width="0.9"/>
<line x1="352.6" y1="265.3" x2="352.6" y2="275.6" stroke="#555" stroke-width="0.9"/>
<line x1="347.20000000000005" y1="275.6" x2="358.0" y2="275.6" stroke="#555" stroke-width="0.9"/>
<rect x="341.45" y="226" width="22.3" height="39.30" fill="#c1e1f8" stroke="#7d8f9c" stroke-width="1"/>
<line x1="341.45000000000005" y1="260.5" x2="363.75" y2="260.5" stroke="#555" stroke-width="1"/>
<circle cx="352.60" cy="213.5" r="1.2" fill="#000"/>
<circle cx="351.20" cy="221.9" r="1.2" fill="#000"/>
<circle cx="354.00" cy="221.9" r="1.2" fill="#000"/>
<circle cx="351.20" cy="226" r="1.2" fill="#000"/>
<circle cx="354.00" cy="226" r="1.2" fill="#000"/>
<circle cx="352.60" cy="234.6" r="1.2" fill="#000"/>
<circle cx="352.60" cy="238.9" r="1.2" fill="#000"/>
<circle cx="352.60" cy="252" r="1.2" fill="#000"/>
<circle cx="352.60" cy="260.6" r="1.2" fill="#000"/>
<circle cx="345.60" cy="265" r="1.2" fill="#000"/>
<circle cx="348.40" cy="265" r="1.2" fill="#000"/>
<circle cx="351.20" cy="265" r="1.2" fill="#000"/>
<circle cx="354.00" cy="265" r="1.2" fill="#000"/>
<circle cx="356.80" cy="265" r="1.2" fill="#000"/>
<circle cx="359.60" cy="265" r="1.2" fill="#000"/>
<circle cx="352.60" cy="273.6" r="1.2" fill="#000"/>
<line x1="385.7" y1="213.5" x2="385.7" y2="223.7" stroke="#555" stroke-width="0.9"/>
<line x1="380.3" y1="213.5" x2="391.09999999999997" y2="213.5" stroke="#555" stroke-width="0.9"/>
<line x1="385.7" y1="252.2" x2="385.7" y2="273.6" stroke="#555" stroke-width="0.9"/>
<line x1="380.3" y1="273.6" x2="391.09999999999997" y2="273.6" stroke="#555" stroke-width="0.9"/>
<rect x="374.55" y="223.7" width="22.3" height="28.50" fill="#c1e1f8" stroke="#7d8f9c" stroke-width="1"/>
<line x1="374.55" y1="234.3" x2="396.84999999999997" y2="234.3" stroke="#555" stroke-width="1"/>
<circle cx="385.70" cy="213.5" r="1.2" fill="#000"/>
<circle cx="384.30" cy="221.9" r="1.2" fill="#000"/>
<circle cx="387.10" cy="221.9" r="1.2" fill="#000"/>
<circle cx="381.50" cy="226" r="1.2" fill="#000"/>
<circle cx="384.30" cy="226" r="1.2" fill="#000"/>
<circle cx="387.10" cy="226" r="1.2" fill="#000"/>
<circle cx="389.90" cy="226" r="1.2" fill="#000"/>
<circle cx="384.30" cy="234.5" r="1.2" fill="#000"/>
<circle cx="387.10" cy="234.5" r="1.2" fill="#000"/>
<circle cx="385.70" cy="238.9" r="1.2" fill="#000"/>
<circle cx="381.50" cy="252" r="1.2" fill="#000"/>
<circle cx="384.30" cy="252" r="1.2" fill="#000"/>
<circle cx="387.10" cy="252" r="1.2" fill="#000"/>
<circle cx="389.90" cy="252" r="1.2" fill="#000"/>
<circle cx="385.70" cy="265" r="1.2" fill="#000"/>
<circle cx="385.70" cy="273.6" r="1.2" fill="#000"/>
<line x1="419" y1="213.4" x2="419" y2="234.6" stroke="#555" stroke-width="0.9"/>
<line x1="413.6" y1="213.4" x2="424.4" y2="213.4" stroke="#555" stroke-width="0.9"/>
<rect x="407.85" y="234.6" width="22.3" height="43.40" fill="#fab67c" stroke="#8c7058" stroke-width="1"/>
<line x1="407.85" y1="239" x2="430.15" y2="239" stroke="#555" stroke-width="1"/>
<circle cx="419.00" cy="213.4" r="1.2" fill="#000"/>
<circle cx="417.60" cy="234.6" r="1.2" fill="#000"/>
<circle cx="420.40" cy="234.6" r="1.2" fill="#000"/>
<circle cx="416.20" cy="239" r="1.2" fill="#000"/>
<circle cx="419.00" cy="239" r="1.2" fill="#000"/>
<circle cx="421.80" cy="239" r="1.2" fill="#000"/>
<circle cx="417.60" cy="264.9" r="1.2" fill="#000"/>
<circle cx="420.40" cy="264.9" r="1.2" fill="#000"/>
<circle cx="416.20" cy="278" r="1.2" fill="#000"/>
<circle cx="419.00" cy="278" r="1.2" fill="#000"/>
<circle cx="421.80" cy="278" r="1.2" fill="#000"/>
<line x1="452.5" y1="213.4" x2="452.5" y2="226.2" stroke="#555" stroke-width="0.9"/>
<line x1="447.1" y1="213.4" x2="457.9" y2="213.4" stroke="#555" stroke-width="0.9"/>
<line x1="452.5" y1="264.9" x2="452.5" y2="277.8" stroke="#555" stroke-width="0.9"/>
<line x1="447.1" y1="277.8" x2="457.9" y2="277.8" stroke="#555" stroke-width="0.9"/>
<rect x="441.35" y="226.2" width="22.3" height="38.70" fill="#fab67c" stroke="#8c7058" stroke-width="1"/>
<line x1="441.35" y1="239" x2="463.65" y2="239" stroke="#555" stroke-width="1"/>
<circle cx="452.50" cy="213.4" r="1.2" fill="#000"/>
<circle cx="452.50" cy="221.8" r="1.2" fill="#000"/>
<circle cx="451.10" cy="226.2" r="1.2" fill="#000"/>
<circle cx="453.90" cy="226.2" r="1.2" fill="#000"/>
<circle cx="452.50" cy="234.6" r="1.2" fill="#000"/>
<circle cx="449.70" cy="239" r="1.2" fill="#000"/>
<circle cx="452.50" cy="239" r="1.2" fill="#000"/>
<circle cx="455.30" cy="239" r="1.2" fill="#000"/>
<circle cx="451.10" cy="264.9" r="1.2" fill="#000"/>
<circle cx="453.90" cy="264.9" r="1.2" fill="#000"/>
<circle cx="452.50" cy="277.8" r="1.2" fill="#000"/>
<line x1="485.7" y1="280.4" x2="485.7" y2="284.2" stroke="#555" stroke-width="0.9"/>
<line x1="480.3" y1="284.2" x2="491.09999999999997" y2="284.2" stroke="#555" stroke-width="0.9"/>
<rect x="474.55" y="276.5" width="22.3" height="3.90" fill="#b9f6cd" stroke="#7f8c84" stroke-width="1"/>
<circle cx="481.30" cy="275.7" r="1.2" fill="#000"/>
<circle cx="481.50" cy="277.9" r="1.2" fill="#000"/>
<circle cx="484.30" cy="277.9" r="1.2" fill="#000"/>
<circle cx="487.10" cy="277.9" r="1.2" fill="#000"/>
<circle cx="489.90" cy="277.9" r="1.2" fill="#000"/>
<circle cx="485.70" cy="284.2" r="1.2" fill="#000"/>
<line x1="336" y1="202.3" x2="336" y2="299.2" stroke="#222" stroke-width="1.35"/>
<line x1="334.2" y1="299.2" x2="502.6" y2="299.2" stroke="#222" stroke-width="1.8"/>
<line x1="333" y1="202.5" x2="336" y2="202.5" stroke="#1a1a1a" stroke-width="1.2"/>
<line x1="333" y1="234.4" x2="336" y2="234.4" stroke="#1a1a1a" stroke-width="1.2"/>
<line x1="333" y1="266.4" x2="336" y2="266.4" stroke="#1a1a1a" stroke-width="1.2"/>
<line x1="352.6" y1="299.2" x2="352.6" y2="302.2" stroke="#1a1a1a" stroke-width="1.2"/>
<line x1="385.7" y1="299.2" x2="385.7" y2="302.2" stroke="#1a1a1a" stroke-width="1.2"/>
<line x1="419" y1="299.2" x2="419" y2="302.2" stroke="#1a1a1a" stroke-width="1.2"/>
<line x1="452.5" y1="299.2" x2="452.5" y2="302.2" stroke="#1a1a1a" stroke-width="1.2"/>
<line x1="485.7" y1="299.2" x2="485.7" y2="302.2" stroke="#1a1a1a" stroke-width="1.2"/>
<text x="325.5" y="201.5" font-size="8.6" font-weight="bold" font-style="normal" text-anchor="end" dominant-baseline="central" fill="#111" textLength="25" lengthAdjust="spacingAndGlyphs" stroke="#111" stroke-width="0.4">32,768</text>
<text x="325.5" y="233.6" font-size="8.6" font-weight="bold" font-style="normal" text-anchor="end" dominant-baseline="central" fill="#111" textLength="18.5" lengthAdjust="spacingAndGlyphs" stroke="#111" stroke-width="0.4">1024</text>
<text x="325.5" y="265.6" font-size="8.6" font-weight="bold" font-style="normal" text-anchor="end" dominant-baseline="central" fill="#111" textLength="9.5" lengthAdjust="spacingAndGlyphs" stroke="#111" stroke-width="0.4">32</text>
<text x="325.5" y="297.6" font-size="8.6" font-weight="bold" font-style="normal" text-anchor="end" dominant-baseline="central" fill="#111" textLength="4" lengthAdjust="spacingAndGlyphs" stroke="#111" stroke-width="0.4">1</text>
<text x="352.6" y="306.8" font-size="7.3" font-weight="bold" font-style="normal" text-anchor="middle" dominant-baseline="central" fill="#111" textLength="7.5" lengthAdjust="spacingAndGlyphs" stroke="#111" stroke-width="0.3">T1</text>
<text x="385.7" y="306.8" font-size="7.3" font-weight="bold" font-style="normal" text-anchor="middle" dominant-baseline="central" fill="#111" textLength="7.5" lengthAdjust="spacingAndGlyphs" stroke="#111" stroke-width="0.3">T2</text>
<text x="419" y="306.8" font-size="7.3" font-weight="bold" font-style="normal" text-anchor="middle" dominant-baseline="central" fill="#111" textLength="7.5" lengthAdjust="spacingAndGlyphs" stroke="#111" stroke-width="0.3">T1</text>
<text x="452.5" y="306.8" font-size="7.3" font-weight="bold" font-style="normal" text-anchor="middle" dominant-baseline="central" fill="#111" textLength="7.5" lengthAdjust="spacingAndGlyphs" stroke="#111" stroke-width="0.3">T2</text>
<text x="485.7" y="306.8" font-size="7.3" font-weight="bold" font-style="normal" text-anchor="middle" dominant-baseline="central" fill="#111" textLength="29.5" lengthAdjust="spacingAndGlyphs" stroke="#111" stroke-width="0.3">Negative</text>
<rect x="476.7" y="206.60000000000002" width="10.3" height="4.8" fill="#c1e1f8" stroke="#7d8f9c" stroke-width="0.9"/>
<rect x="476.7" y="216.9" width="10.3" height="4.8" fill="#fab67c" stroke="#8c7058" stroke-width="0.9"/>
<text x="492.2" y="208.9" font-size="8.5" font-weight="normal" font-style="normal" text-anchor="start" dominant-baseline="central" fill="#1a1a1a" textLength="53" lengthAdjust="spacingAndGlyphs" stroke="#1a1a1a" stroke-width="0.2">Medium severe</text>
<text x="492.2" y="219.2" font-size="8.5" font-weight="normal" font-style="normal" text-anchor="start" dominant-baseline="central" fill="#1a1a1a" textLength="24.380000000000003" lengthAdjust="spacingAndGlyphs" stroke="#1a1a1a" stroke-width="0.2">Severe</text>
<polyline points="352.2,211.29999999999998 352.2,208.6 385.6,208.6 385.6,211.29999999999998" fill="none" stroke="#666" stroke-width="0.9"/>
<text x="368.8" y="204" font-size="7.2" text-anchor="middle" dominant-baseline="central" fill="#111" stroke="#111" stroke-width="0.3" textLength="21" lengthAdjust="spacingAndGlyphs"><tspan font-style="italic" font-weight="bold">P</tspan>=0.04</text>
<text x="143.5" y="328.5" font-size="11.2" font-weight="normal" font-style="normal" text-anchor="middle" dominant-baseline="central" fill="#111" textLength="13.1" lengthAdjust="spacingAndGlyphs" stroke="#111" stroke-width="0.45">(e)</text>
<text x="147.7" y="348.9" font-size="9.5" font-weight="bold" font-style="normal" text-anchor="middle" dominant-baseline="central" fill="#111" textLength="55.5" lengthAdjust="spacingAndGlyphs" stroke="#111" stroke-width="0.35">S IgA, ELISA</text>
<text x="0" y="0" transform="translate(10.299999999999999,413) rotate(-90)" font-size="9.8" font-weight="bold" text-anchor="middle" dominant-baseline="central" fill="#111" stroke="#111" stroke-width="0.3" textLength="61" lengthAdjust="spacingAndGlyphs">Antibody titers</text>
<line x1="130.5" y1="363" x2="130.5" y2="458.1" stroke="#e3e3e3" stroke-width="0.9"/>
<line x1="200.8" y1="363" x2="200.8" y2="458.1" stroke="#e3e3e3" stroke-width="0.9"/>
<line x1="59.8" y1="439.7" x2="232.6" y2="439.7" stroke="#f07c7c" stroke-width="1.1" stroke-dasharray="1.7,2.1" opacity="0.85"/>
<line x1="77.3" y1="430.9" x2="77.3" y2="445.9" stroke="#555" stroke-width="0.9"/>
<line x1="71.89999999999999" y1="445.9" x2="82.7" y2="445.9" stroke="#555" stroke-width="0.9"/>
<rect x="65.65" y="387.7" width="23.3" height="43.20" fill="#c1e1f8" stroke="#7d8f9c" stroke-width="1"/>
<line x1="65.64999999999999" y1="400.4" x2="88.95" y2="400.4" stroke="#555" stroke-width="1"/>
<circle cx="67.50" cy="387.7" r="1.2" fill="#000"/>
<circle cx="70.30" cy="387.7" r="1.2" fill="#000"/>
<circle cx="73.10" cy="387.7" r="1.2" fill="#000"/>
<circle cx="75.90" cy="387.7" r="1.2" fill="#000"/>
<circle cx="78.70" cy="387.7" r="1.2" fill="#000"/>
<circle cx="81.50" cy="387.7" r="1.2" fill="#000"/>
<circle cx="84.30" cy="387.7" r="1.2" fill="#000"/>
<circle cx="87.10" cy="387.7" r="1.2" fill="#000"/>
<circle cx="75.90" cy="400.6" r="1.2" fill="#000"/>
<circle cx="78.70" cy="400.6" r="1.2" fill="#000"/>
<circle cx="77.30" cy="413.3" r="1.2" fill="#000"/>
<circle cx="74.50" cy="426" r="1.2" fill="#000"/>
<circle cx="77.30" cy="426" r="1.2" fill="#000"/>
<circle cx="80.10" cy="426" r="1.2" fill="#000"/>
<circle cx="74.50" cy="439.4" r="1.2" fill="#000"/>
<circle cx="77.30" cy="439.4" r="1.2" fill="#000"/>
<circle cx="80.10" cy="439.4" r="1.2" fill="#000"/>
<circle cx="77.30" cy="445.9" r="1.2" fill="#000"/>
<line x1="112.6" y1="374.6" x2="112.6" y2="387.7" stroke="#555" stroke-width="0.9"/>
<line x1="107.19999999999999" y1="374.6" x2="118.0" y2="374.6" stroke="#555" stroke-width="0.9"/>
<line x1="112.6" y1="430.9" x2="112.6" y2="445.9" stroke="#555" stroke-width="0.9"/>
<line x1="107.19999999999999" y1="445.9" x2="118.0" y2="445.9" stroke="#555" stroke-width="0.9"/>
<rect x="100.95" y="387.7" width="23.3" height="43.20" fill="#c1e1f8" stroke="#7d8f9c" stroke-width="1"/>
<line x1="100.94999999999999" y1="400.4" x2="124.25" y2="400.4" stroke="#555" stroke-width="1"/>
<circle cx="112.60" cy="374.6" r="1.2" fill="#000"/>
<circle cx="108.40" cy="387.7" r="1.2" fill="#000"/>
<circle cx="111.20" cy="387.7" r="1.2" fill="#000"/>
<circle cx="114.00" cy="387.7" r="1.2" fill="#000"/>
<circle cx="116.80" cy="387.7" r="1.2" fill="#000"/>
<circle cx="108.40" cy="400.6" r="1.2" fill="#000"/>
<circle cx="111.20" cy="400.6" r="1.2" fill="#000"/>
<circle cx="114.00" cy="400.6" r="1.2" fill="#000"/>
<circle cx="116.80" cy="400.6" r="1.2" fill="#000"/>
<circle cx="109.80" cy="413.3" r="1.2" fill="#000"/>
<circle cx="112.60" cy="413.3" r="1.2" fill="#000"/>
<circle cx="115.40" cy="413.3" r="1.2" fill="#000"/>
<circle cx="112.60" cy="426" r="1.2" fill="#000"/>
<circle cx="109.80" cy="439.4" r="1.2" fill="#000"/>
<circle cx="112.60" cy="439.4" r="1.2" fill="#000"/>
<circle cx="115.40" cy="439.4" r="1.2" fill="#000"/>
<circle cx="112.60" cy="445.9" r="1.2" fill="#000"/>
<line x1="147.6" y1="387.3" x2="147.6" y2="400.4" stroke="#555" stroke-width="0.9"/>
<line x1="142.2" y1="387.3" x2="153.0" y2="387.3" stroke="#555" stroke-width="0.9"/>
<rect x="135.95" y="400.4" width="23.3" height="45.20" fill="#fab67c" stroke="#8c7058" stroke-width="1"/>
<line x1="135.95" y1="439.1" x2="159.25" y2="439.1" stroke="#555" stroke-width="1"/>
<circle cx="147.60" cy="387.3" r="1.2" fill="#000"/>
<circle cx="146.20" cy="400.6" r="1.2" fill="#000"/>
<circle cx="149.00" cy="400.6" r="1.2" fill="#000"/>
<circle cx="147.60" cy="426.3" r="1.2" fill="#000"/>
<circle cx="143.40" cy="439.2" r="1.2" fill="#000"/>
<circle cx="146.20" cy="439.2" r="1.2" fill="#000"/>
<circle cx="149.00" cy="439.2" r="1.2" fill="#000"/>
<circle cx="151.80" cy="439.2" r="1.2" fill="#000"/>
<circle cx="144.80" cy="445.6" r="1.2" fill="#000"/>
<circle cx="147.60" cy="445.6" r="1.2" fill="#000"/>
<circle cx="150.40" cy="445.6" r="1.2" fill="#000"/>
<line x1="182.8" y1="387.3" x2="182.8" y2="413.3" stroke="#555" stroke-width="0.9"/>
<line x1="177.4" y1="387.3" x2="188.20000000000002" y2="387.3" stroke="#555" stroke-width="0.9"/>
<rect x="171.15" y="413.3" width="23.3" height="32.30" fill="#fab67c" stroke="#8c7058" stroke-width="1"/>
<line x1="171.15" y1="439.1" x2="194.45000000000002" y2="439.1" stroke="#555" stroke-width="1"/>
<circle cx="182.80" cy="387.3" r="1.2" fill="#000"/>
<circle cx="182.80" cy="400.7" r="1.2" fill="#000"/>
<circle cx="182.80" cy="413.3" r="1.2" fill="#000"/>
<circle cx="181.40" cy="426.3" r="1.2" fill="#000"/>
<circle cx="184.20" cy="426.3" r="1.2" fill="#000"/>
<circle cx="181.40" cy="439.2" r="1.2" fill="#000"/>
<circle cx="184.20" cy="439.2" r="1.2" fill="#000"/>
<circle cx="178.60" cy="445.6" r="1.2" fill="#000"/>
<circle cx="181.40" cy="445.6" r="1.2" fill="#000"/>
<circle cx="184.20" cy="445.6" r="1.2" fill="#000"/>
<circle cx="187.00" cy="445.6" r="1.2" fill="#000"/>
<rect x="205.85" y="439.1" width="23.3" height="7.00" fill="#b9f6cd" stroke="#7f8c84" stroke-width="1"/>
<circle cx="216.10" cy="439.5" r="1.2" fill="#000"/>
<circle cx="218.90" cy="439.5" r="1.2" fill="#000"/>
<circle cx="214.70" cy="445.9" r="1.2" fill="#000"/>
<circle cx="217.50" cy="445.9" r="1.2" fill="#000"/>
<circle cx="220.30" cy="445.9" r="1.2" fill="#000"/>
<line x1="59.8" y1="364" x2="59.8" y2="460.6" stroke="#222" stroke-width="1.35"/>
<line x1="58.0" y1="460.6" x2="235.6" y2="460.6" stroke="#222" stroke-width="1.8"/>
<line x1="56.8" y1="364" x2="59.8" y2="364" stroke="#1a1a1a" stroke-width="1.2"/>
<line x1="56.8" y1="396.5" x2="59.8" y2="396.5" stroke="#1a1a1a" stroke-width="1.2"/>
<line x1="56.8" y1="428.4" x2="59.8" y2="428.4" stroke="#1a1a1a" stroke-width="1.2"/>
<line x1="77.3" y1="460.6" x2="77.3" y2="463.6" stroke="#1a1a1a" stroke-width="1.2"/>
<line x1="112.6" y1="460.6" x2="112.6" y2="463.6" stroke="#1a1a1a" stroke-width="1.2"/>
<line x1="147.6" y1="460.6" x2="147.6" y2="463.6" stroke="#1a1a1a" stroke-width="1.2"/>
<line x1="182.8" y1="460.6" x2="182.8" y2="463.6" stroke="#1a1a1a" stroke-width="1.2"/>
<line x1="217.5" y1="460.6" x2="217.5" y2="463.6" stroke="#1a1a1a" stroke-width="1.2"/>
<text x="49.3" y="365.1" font-size="8.6" font-weight="bold" font-style="normal" text-anchor="end" dominant-baseline="central" fill="#111" textLength="25" lengthAdjust="spacingAndGlyphs" stroke="#111" stroke-width="0.4">32,768</text>
<text x="49.3" y="396.5" font-size="8.6" font-weight="bold" font-style="normal" text-anchor="end" dominant-baseline="central" fill="#111" textLength="18.5" lengthAdjust="spacingAndGlyphs" stroke="#111" stroke-width="0.4">1024</text>
<text x="49.3" y="429.3" font-size="8.6" font-weight="bold" font-style="normal" text-anchor="end" dominant-baseline="central" fill="#111" textLength="9.5" lengthAdjust="spacingAndGlyphs" stroke="#111" stroke-width="0.4">32</text>
<text x="49.3" y="461.3" font-size="8.6" font-weight="bold" font-style="normal" text-anchor="end" dominant-baseline="central" fill="#111" textLength="4" lengthAdjust="spacingAndGlyphs" stroke="#111" stroke-width="0.4">1</text>
<text x="77.3" y="468" font-size="7.3" font-weight="bold" font-style="normal" text-anchor="middle" dominant-baseline="central" fill="#111" textLength="7.5" lengthAdjust="spacingAndGlyphs" stroke="#111" stroke-width="0.3">T1</text>
<text x="112.6" y="468" font-size="7.3" font-weight="bold" font-style="normal" text-anchor="middle" dominant-baseline="central" fill="#111" textLength="7.5" lengthAdjust="spacingAndGlyphs" stroke="#111" stroke-width="0.3">T2</text>
<text x="147.6" y="468" font-size="7.3" font-weight="bold" font-style="normal" text-anchor="middle" dominant-baseline="central" fill="#111" textLength="7.5" lengthAdjust="spacingAndGlyphs" stroke="#111" stroke-width="0.3">T1</text>
<text x="182.8" y="468" font-size="7.3" font-weight="bold" font-style="normal" text-anchor="middle" dominant-baseline="central" fill="#111" textLength="7.5" lengthAdjust="spacingAndGlyphs" stroke="#111" stroke-width="0.3">T2</text>
<text x="217.5" y="468" font-size="7.3" font-weight="bold" font-style="normal" text-anchor="middle" dominant-baseline="central" fill="#111" textLength="29.5" lengthAdjust="spacingAndGlyphs" stroke="#111" stroke-width="0.3">Negative</text>
<rect x="205.8" y="368.7" width="10.3" height="4.8" fill="#c1e1f8" stroke="#7d8f9c" stroke-width="0.9"/>
<rect x="205.8" y="379.1" width="10.3" height="4.8" fill="#fab67c" stroke="#8c7058" stroke-width="0.9"/>
<text x="222.3" y="371.0" font-size="8.5" font-weight="normal" font-style="normal" text-anchor="start" dominant-baseline="central" fill="#1a1a1a" textLength="54" lengthAdjust="spacingAndGlyphs" stroke="#1a1a1a" stroke-width="0.2">Medium severe</text>
<text x="222.3" y="381.40000000000003" font-size="8.5" font-weight="normal" font-style="normal" text-anchor="start" dominant-baseline="central" fill="#1a1a1a" textLength="24.84" lengthAdjust="spacingAndGlyphs" stroke="#1a1a1a" stroke-width="0.2">Severe</text>
<polyline points="74.6,374.3 74.6,371.3 147.6,371.3 147.6,374.3" fill="none" stroke="#666" stroke-width="0.9"/>
<text x="108" y="367.4" font-size="7.2" text-anchor="middle" dominant-baseline="central" fill="#111" stroke="#111" stroke-width="0.3" textLength="26" lengthAdjust="spacingAndGlyphs"><tspan font-style="italic" font-weight="bold">P</tspan>=0.029</text>
<polyline points="117.3,384.8 117.3,381.3 183.6,381.3 183.6,384.8" fill="none" stroke="#666" stroke-width="0.9"/>
<text x="153" y="378.2" font-size="7.2" text-anchor="middle" dominant-baseline="central" fill="#111" stroke="#111" stroke-width="0.3" textLength="26.7" lengthAdjust="spacingAndGlyphs"><tspan font-style="italic" font-weight="bold">P</tspan>=0.025</text>
<text x="420" y="329" font-size="11.2" font-weight="normal" font-style="normal" text-anchor="middle" dominant-baseline="central" fill="#111" textLength="11" lengthAdjust="spacingAndGlyphs" stroke="#111" stroke-width="0.45">(f)</text>
<text x="420.7" y="346.9" font-size="9.5" font-weight="bold" font-style="normal" text-anchor="middle" dominant-baseline="central" fill="#111" textLength="54.2" lengthAdjust="spacingAndGlyphs" stroke="#111" stroke-width="0.35">N IgA, ELISA</text>
<text x="0" y="0" transform="translate(286.1,409) rotate(-90)" font-size="9.8" font-weight="bold" text-anchor="middle" dominant-baseline="central" fill="#111" stroke="#111" stroke-width="0.3" textLength="61" lengthAdjust="spacingAndGlyphs">Antibody titers</text>
<line x1="403.8" y1="361.7" x2="403.8" y2="458.5" stroke="#e3e3e3" stroke-width="0.9"/>
<line x1="472.1" y1="361.7" x2="472.1" y2="458.5" stroke="#e3e3e3" stroke-width="0.9"/>
<line x1="336.3" y1="439.8" x2="503" y2="439.8" stroke="#f07c7c" stroke-width="1.1" stroke-dasharray="1.7,2.1" opacity="0.85"/>
<rect x="342.00" y="373.6" width="22.6" height="72.40" fill="#c1e1f8" stroke="#7d8f9c" stroke-width="1"/>
<line x1="342.0" y1="400" x2="364.6" y2="400" stroke="#555" stroke-width="1"/>
<circle cx="347.70" cy="373.8" r="1.2" fill="#000"/>
<circle cx="350.50" cy="373.8" r="1.2" fill="#000"/>
<circle cx="353.30" cy="373.8" r="1.2" fill="#000"/>
<circle cx="356.10" cy="373.8" r="1.2" fill="#000"/>
<circle cx="358.90" cy="373.8" r="1.2" fill="#000"/>
<circle cx="351.90" cy="386.9" r="1.2" fill="#000"/>
<circle cx="354.70" cy="386.9" r="1.2" fill="#000"/>
<circle cx="351.90" cy="399.8" r="1.2" fill="#000"/>
<circle cx="354.70" cy="399.8" r="1.2" fill="#000"/>
<circle cx="353.30" cy="413.1" r="1.2" fill="#000"/>
<circle cx="351.90" cy="439.6" r="1.2" fill="#000"/>
<circle cx="354.70" cy="439.6" r="1.2" fill="#000"/>
<circle cx="346.30" cy="446" r="1.2" fill="#000"/>
<circle cx="349.10" cy="446" r="1.2" fill="#000"/>
<circle cx="351.90" cy="446" r="1.2" fill="#000"/>
<circle cx="354.70" cy="446" r="1.2" fill="#000"/>
<circle cx="357.50" cy="446" r="1.2" fill="#000"/>
<circle cx="360.30" cy="446" r="1.2" fill="#000"/>
<line x1="386.7" y1="418.5" x2="386.7" y2="446" stroke="#555" stroke-width="0.9"/>
<line x1="381.3" y1="446" x2="392.09999999999997" y2="446" stroke="#555" stroke-width="0.9"/>
<rect x="375.40" y="373.6" width="22.6" height="44.90" fill="#c1e1f8" stroke="#7d8f9c" stroke-width="1"/>
<line x1="375.4" y1="386.7" x2="398.0" y2="386.7" stroke="#555" stroke-width="1"/>
<circle cx="379.70" cy="373.8" r="1.2" fill="#000"/>
<circle cx="382.50" cy="373.8" r="1.2" fill="#000"/>
<circle cx="385.30" cy="373.8" r="1.2" fill="#000"/>
<circle cx="388.10" cy="373.8" r="1.2" fill="#000"/>
<circle cx="390.90" cy="373.8" r="1.2" fill="#000"/>
<circle cx="393.70" cy="373.8" r="1.2" fill="#000"/>
<circle cx="383.90" cy="386.9" r="1.2" fill="#000"/>
<circle cx="386.70" cy="386.9" r="1.2" fill="#000"/>
<circle cx="389.50" cy="386.9" r="1.2" fill="#000"/>
<circle cx="385.30" cy="399.8" r="1.2" fill="#000"/>
<circle cx="388.10" cy="399.8" r="1.2" fill="#000"/>
<circle cx="385.30" cy="413.1" r="1.2" fill="#000"/>
<circle cx="388.10" cy="413.1" r="1.2" fill="#000"/>
<circle cx="386.70" cy="439.6" r="1.2" fill="#000"/>
<circle cx="383.90" cy="446" r="1.2" fill="#000"/>
<circle cx="386.70" cy="446" r="1.2" fill="#000"/>
<circle cx="389.50" cy="446" r="1.2" fill="#000"/>
<line x1="420.7" y1="373.6" x2="420.7" y2="386.7" stroke="#555" stroke-width="0.9"/>
<line x1="415.3" y1="373.6" x2="426.09999999999997" y2="373.6" stroke="#555" stroke-width="0.9"/>
<line x1="420.7" y1="439.3" x2="420.7" y2="445.9" stroke="#555" stroke-width="0.9"/>
<line x1="415.3" y1="445.9" x2="426.09999999999997" y2="445.9" stroke="#555" stroke-width="0.9"/>
<rect x="409.40" y="386.7" width="22.6" height="52.60" fill="#fab67c" stroke="#8c7058" stroke-width="1"/>
<circle cx="420.70" cy="373.6" r="1.2" fill="#000"/>
<circle cx="415.10" cy="386.7" r="1.2" fill="#000"/>
<circle cx="417.90" cy="386.7" r="1.2" fill="#000"/>
<circle cx="420.70" cy="386.7" r="1.2" fill="#000"/>
<circle cx="423.50" cy="386.7" r="1.2" fill="#000"/>
<circle cx="426.30" cy="386.7" r="1.2" fill="#000"/>
<circle cx="420.70" cy="400.1" r="1.2" fill="#000"/>
<circle cx="417.90" cy="439.3" r="1.2" fill="#000"/>
<circle cx="420.70" cy="439.3" r="1.2" fill="#000"/>
<circle cx="423.50" cy="439.3" r="1.2" fill="#000"/>
<circle cx="420.70" cy="445.9" r="1.2" fill="#000"/>
<rect x="443.20" y="386.7" width="22.6" height="59.20" fill="#fab67c" stroke="#8c7058" stroke-width="1"/>
<line x1="443.2" y1="412.8" x2="465.8" y2="412.8" stroke="#555" stroke-width="1"/>
<circle cx="451.70" cy="386.7" r="1.2" fill="#000"/>
<circle cx="454.50" cy="386.7" r="1.2" fill="#000"/>
<circle cx="457.30" cy="386.7" r="1.2" fill="#000"/>
<circle cx="453.10" cy="400.1" r="1.2" fill="#000"/>
<circle cx="455.90" cy="400.1" r="1.2" fill="#000"/>
<circle cx="454.50" cy="412.8" r="1.2" fill="#000"/>
<circle cx="454.50" cy="439.3" r="1.2" fill="#000"/>
<circle cx="450.30" cy="445.9" r="1.2" fill="#000"/>
<circle cx="453.10" cy="445.9" r="1.2" fill="#000"/>
<circle cx="455.90" cy="445.9" r="1.2" fill="#000"/>
<circle cx="458.70" cy="445.9" r="1.2" fill="#000"/>
<rect x="476.90" y="439.2" width="22.6" height="6.80" fill="#b9f6cd" stroke="#7f8c84" stroke-width="1"/>
<circle cx="486.80" cy="439.5" r="1.2" fill="#000"/>
<circle cx="489.60" cy="439.5" r="1.2" fill="#000"/>
<circle cx="485.40" cy="446" r="1.2" fill="#000"/>
<circle cx="488.20" cy="446" r="1.2" fill="#000"/>
<circle cx="491.00" cy="446" r="1.2" fill="#000"/>
<line x1="336.3" y1="362.7" x2="336.3" y2="461" stroke="#222" stroke-width="1.35"/>
<line x1="334.5" y1="461" x2="505.3" y2="461" stroke="#222" stroke-width="1.8"/>
<line x1="333.3" y1="362.7" x2="336.3" y2="362.7" stroke="#1a1a1a" stroke-width="1.2"/>
<line x1="333.3" y1="395.1" x2="336.3" y2="395.1" stroke="#1a1a1a" stroke-width="1.2"/>
<line x1="333.3" y1="428" x2="336.3" y2="428" stroke="#1a1a1a" stroke-width="1.2"/>
<line x1="353.3" y1="461" x2="353.3" y2="464" stroke="#1a1a1a" stroke-width="1.2"/>
<line x1="386.7" y1="461" x2="386.7" y2="464" stroke="#1a1a1a" stroke-width="1.2"/>
<line x1="420.7" y1="461" x2="420.7" y2="464" stroke="#1a1a1a" stroke-width="1.2"/>
<line x1="454.5" y1="461" x2="454.5" y2="464" stroke="#1a1a1a" stroke-width="1.2"/>
<line x1="488.2" y1="461" x2="488.2" y2="464" stroke="#1a1a1a" stroke-width="1.2"/>
<text x="325.5" y="361.5" font-size="8.6" font-weight="bold" font-style="normal" text-anchor="end" dominant-baseline="central" fill="#111" textLength="25" lengthAdjust="spacingAndGlyphs" stroke="#111" stroke-width="0.4">32,768</text>
<text x="325.5" y="393.1" font-size="8.6" font-weight="bold" font-style="normal" text-anchor="end" dominant-baseline="central" fill="#111" textLength="18.5" lengthAdjust="spacingAndGlyphs" stroke="#111" stroke-width="0.4">1024</text>
<text x="325.5" y="425" font-size="8.6" font-weight="bold" font-style="normal" text-anchor="end" dominant-baseline="central" fill="#111" textLength="9.5" lengthAdjust="spacingAndGlyphs" stroke="#111" stroke-width="0.4">32</text>
<text x="325.5" y="457" font-size="8.6" font-weight="bold" font-style="normal" text-anchor="end" dominant-baseline="central" fill="#111" textLength="4" lengthAdjust="spacingAndGlyphs" stroke="#111" stroke-width="0.4">1</text>
<text x="353.3" y="468.4" font-size="7.3" font-weight="bold" font-style="normal" text-anchor="middle" dominant-baseline="central" fill="#111" textLength="7.5" lengthAdjust="spacingAndGlyphs" stroke="#111" stroke-width="0.3">T1</text>
<text x="386.7" y="468.4" font-size="7.3" font-weight="bold" font-style="normal" text-anchor="middle" dominant-baseline="central" fill="#111" textLength="7.5" lengthAdjust="spacingAndGlyphs" stroke="#111" stroke-width="0.3">T2</text>
<text x="420.7" y="468.4" font-size="7.3" font-weight="bold" font-style="normal" text-anchor="middle" dominant-baseline="central" fill="#111" textLength="7.5" lengthAdjust="spacingAndGlyphs" stroke="#111" stroke-width="0.3">T1</text>
<text x="454.5" y="468.4" font-size="7.3" font-weight="bold" font-style="normal" text-anchor="middle" dominant-baseline="central" fill="#111" textLength="7.5" lengthAdjust="spacingAndGlyphs" stroke="#111" stroke-width="0.3">T2</text>
<text x="488.2" y="468.4" font-size="7.3" font-weight="bold" font-style="normal" text-anchor="middle" dominant-baseline="central" fill="#111" textLength="29.5" lengthAdjust="spacingAndGlyphs" stroke="#111" stroke-width="0.3">Negative</text>
<rect x="476.1" y="367.0" width="10.3" height="4.8" fill="#c1e1f8" stroke="#7d8f9c" stroke-width="0.9"/>
<rect x="476.1" y="377.3" width="10.3" height="4.8" fill="#fab67c" stroke="#8c7058" stroke-width="0.9"/>
<text x="491.9" y="369.3" font-size="8.5" font-weight="normal" font-style="normal" text-anchor="start" dominant-baseline="central" fill="#1a1a1a" textLength="52.4" lengthAdjust="spacingAndGlyphs" stroke="#1a1a1a" stroke-width="0.2">Medium severe</text>
<text x="491.9" y="379.6" font-size="8.5" font-weight="normal" font-style="normal" text-anchor="start" dominant-baseline="central" fill="#1a1a1a" textLength="24.104" lengthAdjust="spacingAndGlyphs" stroke="#1a1a1a" stroke-width="0.2">Severe</text>
<polyline points="420.5,370.29999999999995 420.5,367.4 455.4,367.4 455.4,370.29999999999995" fill="none" stroke="#666" stroke-width="0.9"/>
<text x="438.3" y="361.5" font-size="7.2" text-anchor="middle" dominant-baseline="central" fill="#111" stroke="#111" stroke-width="0.3" textLength="25.5" lengthAdjust="spacingAndGlyphs"><tspan font-style="italic" font-weight="bold">P</tspan>=0.025</text>
</svg></body></html>
